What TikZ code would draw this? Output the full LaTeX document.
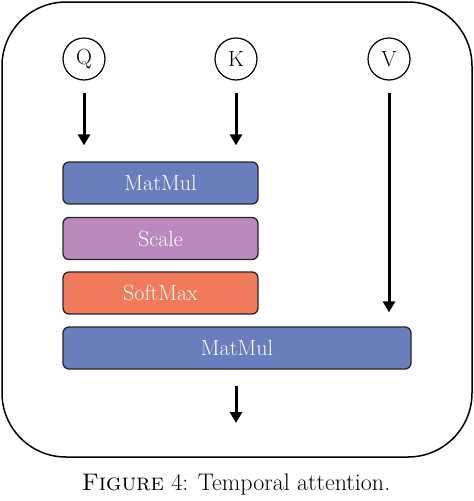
\documentclass[tikz,border=0pt]{standalone}
\usepackage{tikz}
\usetikzlibrary{arrows.meta}
\definecolor{matmulblue}{RGB}{106,126,190}
\definecolor{scalepurple}{RGB}{187,137,190}
\definecolor{softmaxred}{RGB}{240,122,92}
\tikzset{
	inp/.style={draw, circle, line width=1.2pt, minimum size=42pt, inner sep=0pt, font=\fontsize{22}{26}\selectfont},
	opbox/.style={draw=black!85, line width=1.3pt, rounded corners=6pt, minimum height=42pt, text=white, font=\fontsize{22}{26}\selectfont},
	flow/.style={line width=3pt, -{Triangle[width=12pt,length=11pt]}}
}

\begin{document}
\begin{tikzpicture}[x=1pt, y=-1pt]
			%%%%% START %%%%%
			
			\useasboundingbox (0, 0) rectangle (474, 501);
			\draw[line width=1.5pt, rounded corners=64pt] (2, 2) rectangle (472, 457);
			
			\node[inp] (q) at (84, 59) {Q};
			\node[inp] (k) at (236, 59) {K};
			\node[inp] (v) at (389, 59) {V};
			
			\node[opbox, fill=matmulblue, minimum width=195pt] (mm1) at (160.5, 183) {MatMul};
			\node[opbox, fill=scalepurple, minimum width=195pt] (sc) at (160.5, 238.5) {Scale};
			\node[opbox, fill=softmaxred, minimum width=195pt] (sm) at (160.5, 293) {SoftMax};
			\node[opbox, fill=matmulblue, minimum width=348pt] (mm2) at (237, 348) {MatMul};
			
			\coordinate (out) at (236, 423);
			
			\draw[flow, shorten <=12pt, shorten >=16pt] (q) -- (q |- mm1.north);
			\draw[flow, shorten <=12pt, shorten >=16pt] (k) -- (k |- mm1.north);
			\draw[flow, shorten <=12pt, shorten >=14pt] (v) -- (v |- mm2.north);
			\draw[flow, shorten <=16pt] (mm2.south -| out) -- (out);
			
			\node[font=\fontsize{24}{28}\selectfont] (cap) at (236, 485) {\textsc{Figure} 4: Temporal attention.};
			
			%%%%% END %%%%%
		\end{tikzpicture}
\end{document}
